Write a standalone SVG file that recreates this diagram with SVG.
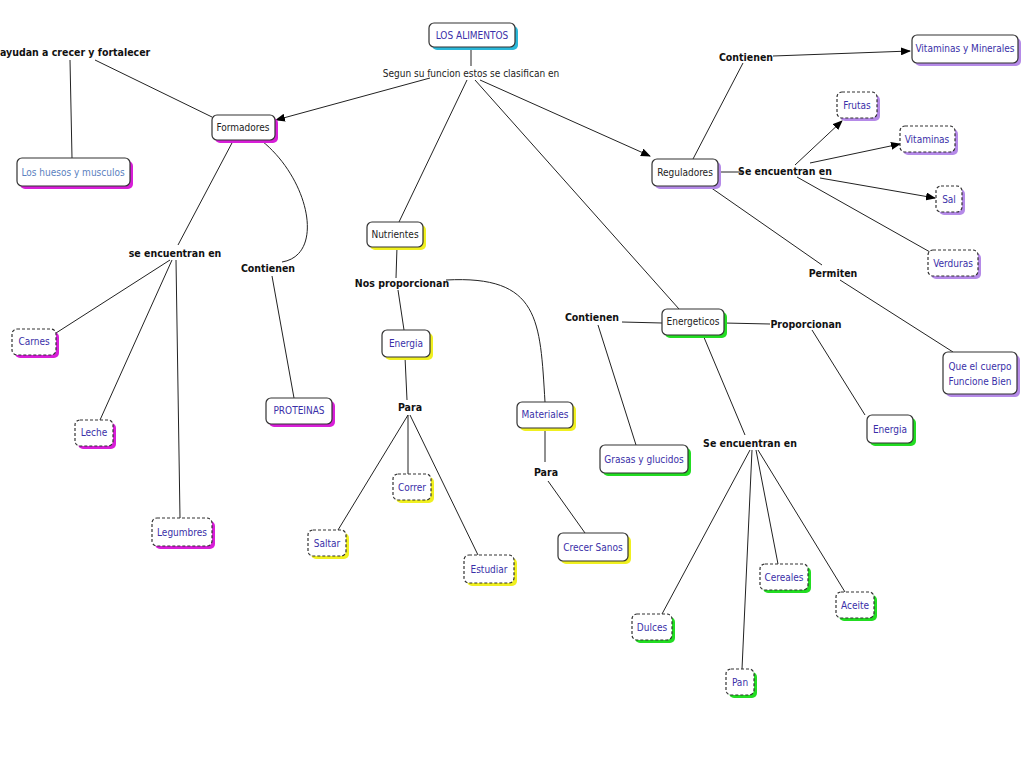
<svg xmlns="http://www.w3.org/2000/svg" width="1024" height="768" viewBox="0 0 1024 768">
<style>
text{font-family:"DejaVu Sans Condensed","Liberation Sans Narrow","Liberation Sans",sans-serif;font-size:10px;text-anchor:middle}
.n{fill:#fff;stroke:#333;stroke-width:1.2}
.d{stroke-dasharray:3,2}
.t{fill:#3a2fa8}
.b{font-weight:bold;fill:#111;font-size:10.5px}
.c{stroke:#222;stroke-width:1;fill:none}
</style>
<defs><marker id="a" markerWidth="10" markerHeight="8" refX="9" refY="4" orient="auto" markerUnits="userSpaceOnUse"><path d="M0,0L10,4L0,8z" fill="#000"/></marker></defs>
<rect width="1024" height="768" fill="#fff"/>
<g id="connectors" class="c">
<path d="M471,47V66"/>
<path d="M430,78L276,120" marker-end="url(#a)"/>
<path d="M480,80L650,156" marker-end="url(#a)"/>
<path d="M467,80L399,222"/>
<path d="M475,80L679,309"/>
<path d="M95,60L212,117"/>
<path d="M70,60L72,158"/>
<path d="M233,141L178,245"/>
<path d="M262,141C310,180 325,255 282,262"/>
<path d="M170,260L56,333"/><path d="M172,260L100,420"/><path d="M176,260L180,518"/>
<path d="M272,276L294,398"/>
<path d="M397,247L396,278"/>
<path d="M398,290L404,330"/>
<path d="M446,280C540,275 540,320 545,402"/>
<path d="M405,357L407,400"/>
<path d="M408,415L338,530"/><path d="M408,415L408,474"/><path d="M410,415L478,555"/>
<path d="M545,428V462"/><path d="M548,481L585,533"/>
<path d="M693,159L743,63"/>
<path d="M773,56L910,51" marker-end="url(#a)"/>
<path d="M718,172H742"/>
<path d="M795,165L842,121" marker-end="url(#a)"/>
<path d="M810,163L900,144" marker-end="url(#a)"/>
<path d="M820,178L935,198" marker-end="url(#a)"/>
<path d="M797,177L930,252"/>
<path d="M710,187L822,265"/>
<path d="M840,280L953,352"/>
<path d="M622,322L662,323"/>
<path d="M598,325L636,445"/>
<path d="M724,323L770,324"/>
<path d="M812,330L865,415"/>
<path d="M703,335L745,435"/>
<path d="M750,450L662,614"/><path d="M752,450L742,669"/><path d="M756,450L778,564"/><path d="M758,450L845,592"/>
</g>
<g id="n-alimentos"><rect x="432" y="26" width="86" height="24" rx="5" fill="#2ab7d8"/><rect class="n" x="429" y="23" width="86" height="24" rx="5"/><text class="t" x="472" y="39">LOS ALIMENTOS</text></g>
<g id="l-segun"><text x="471" y="77" fill="#222">Segun su funcion estos se clasifican en</text></g>
<g id="l-ayudan"><text class="b" x="0" y="56" style="text-anchor:start">ayudan a crecer y fortalecer</text></g>
<g id="n-formadores"><rect x="215" y="118" width="63" height="25" rx="5" fill="#d81ed8"/><rect class="n" x="212" y="115" width="63" height="25" rx="5"/><text x="243" y="131" fill="#222">Formadores</text></g>
<g id="n-huesos"><rect x="20" y="161" width="113" height="28" rx="5" fill="#d81ed8"/><rect class="n" x="17" y="158" width="113" height="28" rx="5"/><text x="73" y="176" fill="#5b7fc0">Los huesos y musculos</text></g>
<g id="l-se1"><text class="b" x="175" y="257">se encuentran en</text></g>
<g id="l-cont1"><text class="b" x="268" y="272">Contienen</text></g>
<g id="n-carnes"><rect x="15" y="332" width="44" height="26" rx="5" fill="#d81ed8"/><rect class="n d" x="12" y="329" width="44" height="26" rx="5"/><text class="t" x="34" y="345">Carnes</text></g>
<g id="n-leche"><rect x="78" y="423" width="38" height="26" rx="5" fill="#d81ed8"/><rect class="n d" x="75" y="420" width="38" height="26" rx="5"/><text class="t" x="94" y="436">Leche</text></g>
<g id="n-legumbres"><rect x="155" y="521" width="60" height="28" rx="5" fill="#d81ed8"/><rect class="n d" x="152" y="518" width="60" height="28" rx="5"/><text class="t" x="182" y="536">Legumbres</text></g>
<g id="n-proteinas"><rect x="269" y="401" width="66" height="26" rx="5" fill="#d81ed8"/><rect class="n" x="266" y="398" width="66" height="26" rx="5"/><text class="t" x="299" y="414">PROTEINAS</text></g>
<g id="n-nutrientes"><rect x="370" y="225" width="56" height="25" rx="5" fill="#f0f020"/><rect class="n" x="367" y="222" width="56" height="25" rx="5"/><text x="395" y="238" fill="#222">Nutrientes</text></g>
<g id="l-nos"><text class="b" x="402" y="287">Nos proporcionan</text></g>
<g id="n-energia1"><rect x="385" y="333" width="48" height="27" rx="5" fill="#f0f020"/><rect class="n" x="382" y="330" width="48" height="27" rx="5"/><text class="t" x="406" y="347">Energia</text></g>
<g id="l-para1"><text class="b" x="410" y="411">Para</text></g>
<g id="n-correr"><rect x="396" y="477" width="38" height="26" rx="5" fill="#f0f020"/><rect class="n d" x="393" y="474" width="38" height="26" rx="5"/><text class="t" x="412" y="491">Correr</text></g>
<g id="n-saltar"><rect x="311" y="533" width="38" height="26" rx="5" fill="#f0f020"/><rect class="n d" x="308" y="530" width="38" height="26" rx="5"/><text class="t" x="327" y="547">Saltar</text></g>
<g id="n-estudiar"><rect x="467" y="558" width="50" height="28" rx="5" fill="#f0f020"/><rect class="n d" x="464" y="555" width="50" height="28" rx="5"/><text class="t" x="489" y="573">Estudiar</text></g>
<g id="n-materiales"><rect x="520" y="405" width="56" height="26" rx="5" fill="#f0f020"/><rect class="n" x="517" y="402" width="56" height="26" rx="5"/><text class="t" x="545" y="418">Materiales</text></g>
<g id="l-para2"><text class="b" x="546" y="476">Para</text></g>
<g id="n-crecer"><rect x="561" y="536" width="70" height="28" rx="5" fill="#f0f020"/><rect class="n" x="558" y="533" width="70" height="28" rx="5"/><text class="t" x="593" y="551">Crecer Sanos</text></g>
<g id="n-reguladores"><rect x="655" y="162" width="66" height="27" rx="5" fill="#b58ae8"/><rect class="n" x="652" y="159" width="66" height="27" rx="5"/><text x="685" y="176" fill="#222">Reguladores</text></g>
<g id="l-cont2"><text class="b" x="746" y="61">Contienen</text></g>
<g id="n-vitmin"><rect x="915" y="38" width="106" height="28" rx="5" fill="#b58ae8"/><rect class="n" x="912" y="35" width="106" height="28" rx="5"/><text class="t" x="965" y="52">Vitaminas y Minerales</text></g>
<g id="l-se2"><text class="b" x="785" y="175">Se encuentran en</text></g>
<g id="n-frutas"><rect x="840" y="95" width="40" height="26" rx="5" fill="#b58ae8"/><rect class="n d" x="837" y="92" width="40" height="26" rx="5"/><text class="t" x="857" y="109">Frutas</text></g>
<g id="n-vitaminas"><rect x="903" y="129" width="55" height="26" rx="5" fill="#b58ae8"/><rect class="n d" x="900" y="126" width="55" height="26" rx="5"/><text class="t" x="927" y="143">Vitaminas</text></g>
<g id="n-sal"><rect x="939" y="189" width="26" height="26" rx="5" fill="#b58ae8"/><rect class="n d" x="936" y="186" width="26" height="26" rx="5"/><text class="t" x="949" y="203">Sal</text></g>
<g id="n-verduras"><rect x="931" y="253" width="50" height="26" rx="5" fill="#b58ae8"/><rect class="n d" x="928" y="250" width="50" height="26" rx="5"/><text class="t" x="953" y="267">Verduras</text></g>
<g id="l-permiten"><text class="b" x="833" y="277">Permiten</text></g>
<g id="n-cuerpo"><rect x="946" y="355" width="74" height="42" rx="5" fill="#b58ae8"/><rect class="n" x="943" y="352" width="74" height="42" rx="5"/><text class="t" x="980" y="370">Que el cuerpo</text><text class="t" x="980" y="385">Funcione Bien</text></g>
<g id="n-energeticos"><rect x="665" y="312" width="62" height="26" rx="5" fill="#22dd22"/><rect class="n" x="662" y="309" width="62" height="26" rx="5"/><text x="693" y="325" fill="#222">Energeticos</text></g>
<g id="l-cont3"><text class="b" x="592" y="321">Contienen</text></g>
<g id="l-prop"><text class="b" x="806" y="328">Proporcionan</text></g>
<g id="n-energia2"><rect x="870" y="418" width="46" height="28" rx="5" fill="#22dd22"/><rect class="n" x="867" y="415" width="46" height="28" rx="5"/><text class="t" x="890" y="433">Energia</text></g>
<g id="n-grasas"><rect x="603" y="448" width="88" height="28" rx="5" fill="#22dd22"/><rect class="n" x="600" y="445" width="88" height="28" rx="5"/><text class="t" x="644" y="463">Grasas y glucidos</text></g>
<g id="l-se3"><text class="b" x="750" y="447">Se encuentran en</text></g>
<g id="n-cereales"><rect x="763" y="567" width="48" height="26" rx="5" fill="#22dd22"/><rect class="n d" x="760" y="564" width="48" height="26" rx="5"/><text class="t" x="784" y="581">Cereales</text></g>
<g id="n-aceite"><rect x="839" y="595" width="38" height="26" rx="5" fill="#22dd22"/><rect class="n d" x="836" y="592" width="38" height="26" rx="5"/><text class="t" x="855" y="609">Aceite</text></g>
<g id="n-dulces"><rect x="635" y="617" width="40" height="26" rx="5" fill="#22dd22"/><rect class="n d" x="632" y="614" width="40" height="26" rx="5"/><text class="t" x="652" y="631">Dulces</text></g>
<g id="n-pan"><rect x="729" y="672" width="28" height="26" rx="5" fill="#22dd22"/><rect class="n d" x="726" y="669" width="28" height="26" rx="5"/><text class="t" x="740" y="686">Pan</text></g>
</svg>
